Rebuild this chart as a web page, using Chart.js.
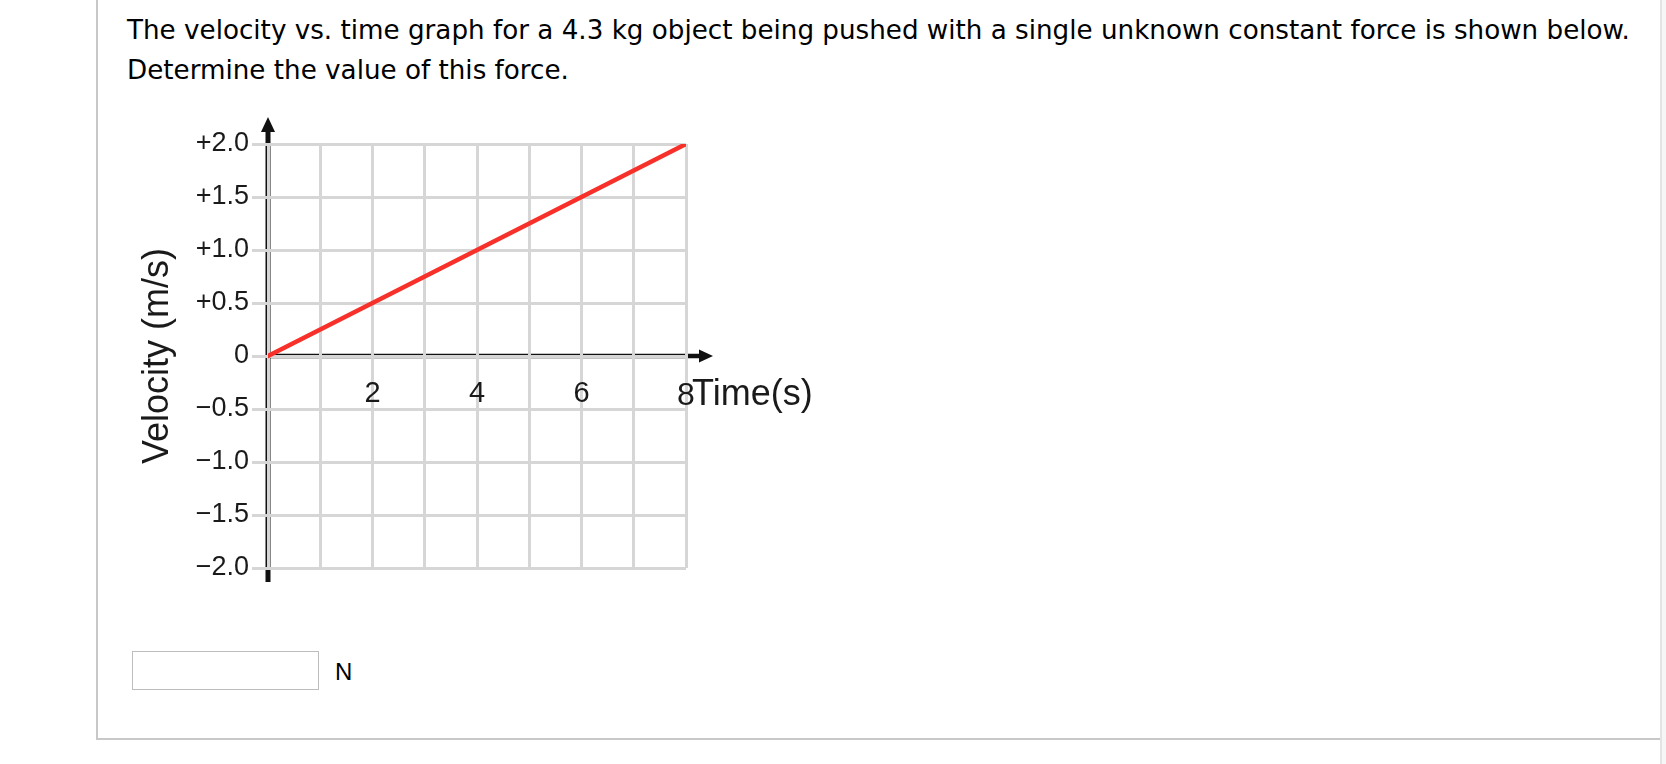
<!DOCTYPE html>
<html>
<head>
<meta charset="utf-8">
<script src="https://cdn.jsdelivr.net/npm/chart.js@4"></script>
<style>
  html, body { margin: 0; padding: 0; background: #fff; }
  body { width: 1666px; height: 764px; position: relative; overflow: hidden; }
  #panel { position: absolute; left: 96px; top: -2px; width: 1564px; height: 740px;
           border-left: 2px solid #c8c8c8; border-bottom: 2px solid #c8c8c8; box-sizing: content-box; }
  #edge { position: absolute; left: 1660px; top: 0; width: 6px; height: 764px;
          background: #f6f6f6; border-left: 2px solid #e4e4e4; box-sizing: border-box; }
  #question { position: absolute; left: 127px; top: 10px; margin: 0; white-space: nowrap;
              font-family: "DejaVu Sans", Verdana, sans-serif; font-size: 26.2px; line-height: 40px; color: #000; }
  #ChartBox { position: absolute; left: 130px; top: 100px; width: 720px; height: 520px; }
  #answer { position: absolute; left: 132px; top: 651px; width: 187px; height: 39px;
            border: 1px solid #bdbdbd; box-sizing: border-box; background: #fff; }
  #unit { position: absolute; left: 335px; top: 660px; font-family: "Liberation Sans", Arial, sans-serif;
          font-size: 24px; line-height: 24px; color: #000; }
</style>
</head>
<body>
<div id="panel"></div>
<div id="edge"></div>
<p id="question">The velocity vs. time graph for a 4.3 kg object being pushed with a single unknown constant force is shown below.<br>Determine the value of this force.</p>
<div id="ChartBox"><canvas id="myChart" width="720" height="520"></canvas></div>
<div id="answer"></div>
<div id="unit">N</div>

<script>
// data
const timeValues = [0, 8];
const velocityValues = [0, 2.0];

const xGridValues = [0, 1, 2, 3, 4, 5, 6, 7, 8];
const xTickLabels = ["", "", "2", "", "4", "", "6", "", "8"];

const yTickValues = [-2.0, -1.5, -1.0, -0.5, 0, 0.5, 1.0, 1.5, 2.0];
const yTickLabels = ["\u22122.0", "\u22121.5", "\u22121.0", "\u22120.5", "0", "+0.5", "+1.0", "+1.5", "+2.0"];

const xTitle = "Time(s)";
const yTitle = "Velocity (m/s)";

const gridColor = "#d6d6d6";
const fontFamily = "'Liberation Sans', Arial, sans-serif";

// black axes with arrow heads, drawn under the grid like in the picture
const axisArrows = {
    id: 'axisArrows',
    beforeDraw(chart) {
        const { ctx, scales: { x, y } } = chart;
        const x0 = x.getPixelForValue(0);
        const y0 = y.getPixelForValue(0);
        const yTop = y.getPixelForValue(y.max) - 27;
        const yBot = y.getPixelForValue(y.min) + 14;
        const xEnd = x.getPixelForValue(x.max) + 27;
        ctx.save();
        ctx.strokeStyle = '#111';
        ctx.fillStyle = '#111';
        ctx.lineWidth = 5;
        ctx.beginPath();
        ctx.moveTo(x0, yBot);
        ctx.lineTo(x0, yTop + 10);
        ctx.stroke();
        ctx.lineWidth = 4.5;
        ctx.beginPath();
        ctx.moveTo(x0, y0);
        ctx.lineTo(xEnd - 10, y0);
        ctx.stroke();
        ctx.beginPath();
        ctx.moveTo(x0, yTop);
        ctx.lineTo(x0 - 7, yTop + 15);
        ctx.lineTo(x0 + 7, yTop + 15);
        ctx.closePath();
        ctx.fill();
        ctx.beginPath();
        ctx.moveTo(xEnd, y0);
        ctx.lineTo(xEnd - 14, y0 - 6.5);
        ctx.lineTo(xEnd - 14, y0 + 6.5);
        ctx.closePath();
        ctx.fill();
        ctx.restore();
    },
    afterDraw(chart) {
        const { ctx, scales: { x, y } } = chart;
        ctx.save();
        ctx.font = "36px " + fontFamily;
        ctx.fillStyle = '#1a1a1a';
        ctx.textAlign = 'left';
        ctx.textBaseline = 'alphabetic';
        ctx.fillText(xTitle, x.getPixelForValue(x.max) + 6, y.getPixelForValue(0) + 49);
        ctx.restore();
    }
};

new Chart(document.getElementById("myChart"), {
    type: 'line',
    data: {
        datasets: [{
            data: timeValues.map((t, i) => ({ x: t, y: velocityValues[i] })),
            borderColor: "#f8302a",
            borderWidth: 4.5,
            borderCapStyle: 'round',
            pointRadius: 0,
            fill: false,
            tension: 0
        }]
    },
    options: {
        responsive: false,
        devicePixelRatio: 1,
        animation: false,
        layout: { padding: { left: 0, top: 44, right: 164, bottom: 52 } },
        plugins: {
            legend: { display: false },
            tooltip: { enabled: false }
        },
        scales: {
            x: {
                type: 'linear',
                position: { y: 0 },
                min: 0,
                max: 8,
                afterBuildTicks: s => { s.ticks = xGridValues.map(v => ({ value: v })); },
                afterFit: s => { s.height = 0; },
                grid: { color: gridColor, lineWidth: 3, drawTicks: false },
                border: { display: false },
                ticks: {
                    autoSkip: false,
                    maxRotation: 0,
                    padding: 21,
                    color: '#1a1a1a',
                    font: c => ({ family: fontFamily, size: c.tick && c.tick.value === 8 ? 32 : 29 }),
                    callback: v => xTickLabels[xGridValues.indexOf(v)]
                }
            },
            y: {
                type: 'linear',
                position: 'left',
                min: -2,
                max: 2,
                afterBuildTicks: s => { s.ticks = yTickValues.map(v => ({ value: v })); },
                afterFit: s => { s.width = 138; },
                grid: { color: gridColor, lineWidth: 3, drawTicks: true, tickLength: 16 },
                border: { display: false },
                ticks: {
                    autoSkip: false,
                    padding: 3,
                    color: '#1a1a1a',
                    font: { family: fontFamily, size: 27 },
                    callback: v => yTickLabels[yTickValues.indexOf(v)]
                },
                title: {
                    display: true,
                    text: yTitle,
                    color: '#1a1a1a',
                    font: { family: fontFamily, size: 36 },
                    padding: { top: 6, bottom: 0 }
                }
            }
        }
    },
    plugins: [axisArrows]
});
</script>
</body>
</html>
